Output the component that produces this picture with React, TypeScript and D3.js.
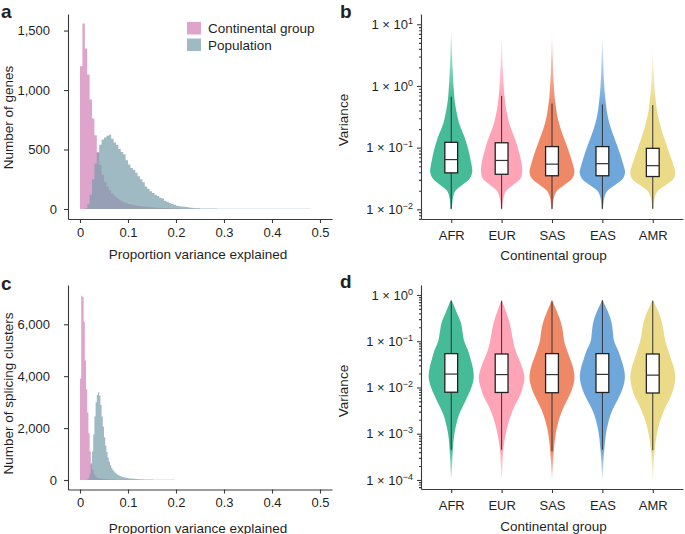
import React, { useEffect, useRef } from "react";
import * as d3 from "d3";

const FONT = "'Liberation Sans', Arial, Helvetica, sans-serif";
const AXIS = "#3a3a3a";
const INK = "#1f1f1f";

// ---- histogram panels (a, c) ----
const seriesNames = ["Continental group", "Population"];
const seriesColors = ["#d07eb5", "#779cab"];

const propTicks = [0, 0.1, 0.2, 0.3, 0.4, 0.5];
const propTickLabels = ["0", "0.1", "0.2", "0.3", "0.4", "0.5"];
const geneCountTicks = [0, 500, 1000, 1500];
const clusterCountTicks = [0, 2000, 4000, 6000];

// panel a, bins of 0.005
const geneBin = 0.005;
const geneContinentalStart = 0;
const geneContinental = [
  1200, 1560, 1350, 1130, 920, 760, 620, 480, 370, 290, 230, 190, 160, 130, 110,
  92, 78, 66, 56, 48, 42, 37, 33, 29, 26, 23, 21, 19, 17, 15, 14, 12, 11, 10, 9,
  8, 7, 6, 5, 5, 4, 4, 3, 3, 3, 2, 2, 2, 2, 2,
];
const genePopulationStart = 0.01;
const genePopulation = [
  5, 40, 120, 250, 380, 470, 540, 585, 600, 615, 625, 590, 560, 540, 505, 480,
  460, 410, 375, 345, 330, 305, 275, 250, 225, 190, 170, 150, 135, 120, 110, 95,
  88, 70, 60, 50, 42, 35, 28, 24, 21, 20, 16, 12, 10, 8, 7, 6, 5, 5, 5, 4, 4, 4,
  4, 3, 3, 3, 3, 3, 3, 3, 2, 3, 2, 2, 2, 2, 2, 2, 2, 2, 2, 2, 2, 2, 2, 2, 2, 2,
  2, 2, 2, 2, 2, 2, 2, 2, 2, 2, 2, 2, 2, 2,
];

// panel c, bins of 0.0025
const clusterBin = 0.0025;
const clusterContinentalStart = 0;
const clusterContinental = [
  3900, 7100, 7050, 6100, 4600, 3500, 2600, 1800, 1100, 650, 400, 260, 180, 130,
  100, 80, 65, 55, 48, 42, 37, 33, 30, 27, 24, 22, 20, 18, 16, 15, 14, 13, 12, 11,
  10, 9, 9, 8, 8, 7, 7, 6, 6, 5, 5, 5, 4, 4, 4, 3,
];
const clusterPopulationStart = 0.015;
const clusterPopulation = [
  20, 80, 250, 600, 1100, 1750, 2450, 3000, 3280, 3380, 3250, 2900, 2450, 2050,
  1650, 1330, 1080, 860, 700, 570, 470, 390, 330, 280, 240, 205, 180, 155, 135,
  120, 105, 95, 85, 76, 68, 62, 56, 52, 48, 44, 40, 37, 34, 32, 30, 28, 26, 24,
  22, 20, 19, 18, 17, 16, 15, 14, 13, 12, 11, 10, 10, 9, 9, 8, 8, 7, 7, 6, 6, 5,
  5, 5, 5, 4, 4, 4, 4, 4, 3, 3, 3, 3, 3, 3, 3, 3, 3, 3, 3, 3,
];

// ---- violin panels (b, d) ----
const groups = ["AFR", "EUR", "SAS", "EAS", "AMR"];
const groupColors = ["#45bc97", "#ffa4b7", "#ef8867", "#70a7db", "#ebda87"];

// panel b: density (relative half width) on a log10 grid
const geneLogGrid = [
  -2.0, -1.9, -1.8, -1.7, -1.6, -1.5, -1.4, -1.3, -1.2, -1.1, -1.0, -0.9, -0.8,
  -0.7, -0.6, -0.5, -0.4, -0.3, -0.2, -0.1, 0.0, 0.1, 0.2, 0.3, 0.4, 0.5, 0.6,
  0.7, 0.8, 0.9,
];
const geneDensityAFR = [0.03, 0.05, 0.09, 0.2, 0.54, 0.88, 1.0, 0.98, 0.92, 0.86, 0.79, 0.7, 0.6, 0.48, 0.37, 0.3, 0.24, 0.19, 0.15, 0.13, 0.11, 0.09, 0.08, 0.06, 0.05, 0.04, 0.03, 0.02, 0.01, 0];
const geneDensityEUR = [0.03, 0.05, 0.1, 0.22, 0.56, 0.9, 0.98, 0.97, 0.92, 0.85, 0.77, 0.68, 0.57, 0.46, 0.36, 0.29, 0.23, 0.18, 0.15, 0.12, 0.1, 0.08, 0.07, 0.05, 0.04, 0.03, 0.02, 0.01, 0, 0];
const geneDensitySAS = [0.03, 0.05, 0.1, 0.24, 0.6, 0.96, 1.07, 1.02, 0.93, 0.84, 0.74, 0.63, 0.52, 0.42, 0.33, 0.26, 0.21, 0.17, 0.13, 0.11, 0.09, 0.075, 0.06, 0.05, 0.04, 0.03, 0.02, 0.012, 0.005, 0];
const geneDensityEAS = [0.03, 0.05, 0.1, 0.24, 0.62, 0.98, 1.08, 1.02, 0.93, 0.84, 0.74, 0.63, 0.52, 0.42, 0.33, 0.26, 0.21, 0.17, 0.14, 0.11, 0.09, 0.075, 0.06, 0.05, 0.04, 0.03, 0.02, 0.01, 0, 0];
const geneDensityAMR = [0.03, 0.05, 0.1, 0.25, 0.64, 1.0, 1.07, 1.0, 0.9, 0.8, 0.7, 0.6, 0.5, 0.41, 0.33, 0.26, 0.2, 0.16, 0.13, 0.1, 0.08, 0.06, 0.045, 0.03, 0.02, 0.01, 0, 0, 0, 0];
const geneQ1 = [0.039, 0.037, 0.035, 0.035, 0.034];
const geneMedian = [0.064, 0.062, 0.054, 0.055, 0.051];
const geneQ3 = [0.122, 0.12, 0.104, 0.104, 0.0975];
const geneWhiskerLo = [0.0102, 0.0102, 0.0102, 0.0102, 0.0102];
const geneWhiskerHi = [0.67, 0.69, 0.52, 0.5, 0.49];
const geneExponents = [-2, -1, 0, 1];

// panel d
const clusterLogGrid = [
  -4.0, -3.8, -3.6, -3.4, -3.2, -3.0, -2.8, -2.6, -2.4, -2.2, -2.0, -1.8, -1.6,
  -1.4, -1.2, -1.0, -0.8, -0.6, -0.4, -0.2, -0.1,
];
const clusterDensityAFR = [0, 0.03, 0.045, 0.07, 0.1, 0.15, 0.24, 0.36, 0.56, 0.77, 0.96, 1.07, 1.04, 0.93, 0.8, 0.62, 0.54, 0.46, 0.28, 0.1, 0];
const clusterDensityEUR = [0, 0.03, 0.045, 0.07, 0.12, 0.2, 0.3, 0.44, 0.62, 0.85, 1.0, 1.09, 1.0, 0.84, 0.66, 0.55, 0.47, 0.38, 0.24, 0.08, 0];
const clusterDensitySAS = [0, 0.03, 0.05, 0.08, 0.12, 0.18, 0.27, 0.4, 0.58, 0.8, 0.98, 1.07, 1.02, 0.88, 0.72, 0.58, 0.52, 0.43, 0.27, 0.09, 0];
const clusterDensityEAS = [0, 0.03, 0.05, 0.08, 0.12, 0.17, 0.26, 0.38, 0.57, 0.8, 0.98, 1.07, 1.03, 0.9, 0.75, 0.56, 0.5, 0.44, 0.3, 0.1, 0];
const clusterDensityAMR = [0, 0.03, 0.05, 0.08, 0.13, 0.2, 0.3, 0.45, 0.63, 0.85, 1.0, 1.07, 1.02, 0.88, 0.74, 0.6, 0.52, 0.44, 0.3, 0.1, 0];
const clusterQ1 = [0.0079, 0.0078, 0.0077, 0.0078, 0.0076];
const clusterMedian = [0.0195, 0.019, 0.019, 0.0192, 0.0185];
const clusterQ3 = [0.054, 0.053, 0.054, 0.054, 0.053];
const clusterWhiskerLo = [0.00045, 0.00045, 0.00042, 0.00045, 0.00044];
const clusterWhiskerHi = [0.75, 0.74, 0.72, 0.77, 0.75];
const clusterExponents = [-4, -3, -2, -1, 0];

type Sel = d3.Selection<any, any, any, any>;

function styleAxis(a: Sel) {
  a.attr("font-family", FONT).attr("font-size", 13);
  a.select(".domain").attr("stroke", AXIS).attr("stroke-width", 1.1);
  a.selectAll(".tick line").attr("stroke", AXIS).attr("stroke-width", 1.1);
  a.selectAll(".tick text").attr("fill", INK);
}

function addText(g: Sel, x: number, y: number, s: string, size = 13.5, anchor = "middle", weight = "normal") {
  return g.append("text").attr("x", x).attr("y", y).attr("text-anchor", anchor)
    .attr("font-family", FONT).attr("font-size", size).attr("font-weight", weight)
    .attr("fill", INK).text(s);
}

function histPanel(svg: Sel, o: any) {
  const x = d3.scaleLinear().domain([-0.025, 0.525]).range([o.left, o.right]);
  const y = d3.scaleLinear().domain(o.yDomain).range([o.bottom, o.top]);
  const g = svg.append("g");
  const series = [
    { vals: o.cont as number[], start: o.contStart as number },
    { vals: o.pop as number[], start: o.popStart as number },
  ];
  // each series as one stepped outline, so neighbouring bins don't leave seams
  const step = d3.area<[number, number]>()
    .x((d) => x(d[0]))
    .y0(y(0))
    .y1((d) => y(d[1]))
    .curve(d3.curveStepAfter);
  series.forEach((s, k) => {
    const pts: [number, number][] = s.vals.map((v, i) => [s.start + i * o.bin, v]);
    pts.push([s.start + s.vals.length * o.bin, 0]);
    g.append("path").attr("d", step(pts))
      .attr("fill", seriesColors[k]).attr("fill-opacity", 0.7);
  });

  const ax = g.append("g").attr("transform", `translate(0,${o.bottom})`)
    .call(d3.axisBottom(x).tickValues(propTicks)
      .tickFormat((d: any, i: number) => propTickLabels[i])
      .tickSize(4).tickPadding(o.xPad).tickSizeOuter(0));
  styleAxis(ax);

  const ay = g.append("g").attr("transform", `translate(${o.left},0)`)
    .call(d3.axisLeft(y).tickValues(o.yTicks).tickFormat(d3.format(","))
      .tickSize(4).tickSizeOuter(0));
  styleAxis(ay);
  ay.selectAll(".tick text").attr("x", (d: any) => (d === 0 ? -11 : -18));

  addText(g, 0, 0, o.yTitle).attr("transform", `translate(13,${o.yTitleY}) rotate(-90)`);
  addText(g, 198, o.xTitleY, "Proportion variance explained");
  addText(g, 1, o.letterY, o.letter, 19, "start", "bold");

  if (o.legend) {
    seriesNames.forEach((name, k) => {
      g.append("rect").attr("x", 187).attr("y", 22 + k * 16.5).attr("width", 14).attr("height", 12.5)
        .attr("fill", seriesColors[k]).attr("fill-opacity", 0.7);
      addText(g, 208, 33 + k * 16.5, name, 13.5, "start");
    });
  }
}

function violinPanel(svg: Sel, defs: Sel, o: any) {
  const x = d3.scalePoint().domain(groups).range([o.left, o.right]).padding(0.6);
  const y = d3.scaleLog().domain(o.yDomain).range([o.bottom, o.top]);
  const w = d3.scaleLinear().domain([0, 1]).range([0, 21]);
  const g = svg.append("g");

  groups.forEach((grp, i) => {
    const cx = x(grp) as number;
    const dens: number[] = o.densities[i];
    const pts: [number, number][] = o.grid.map((v: number, j: number) => [v, dens[j]]);
    const id = `${o.id}-${grp}`;
    let tipLog = o.grid[0];
    if (o.fadeTop) {
      let last = 0;
      dens.forEach((d, j) => { if (d > 0) last = j; });
      tipLog = o.grid[Math.min(last + 1, o.grid.length - 1)];
    }
    const grad = defs.append("linearGradient").attr("id", id)
      .attr("gradientUnits", "userSpaceOnUse")
      .attr("x1", 0).attr("x2", 0)
      .attr("y1", y(10 ** tipLog))
      .attr("y2", y(o.fadeTop ? o.hi[i] : o.lo[i]));
    grad.append("stop").attr("offset", 0).attr("stop-color", groupColors[i]).attr("stop-opacity", 0.25);
    grad.append("stop").attr("offset", 1).attr("stop-color", groupColors[i]).attr("stop-opacity", 1);

    const area = d3.area<[number, number]>()
      .y((d) => y(10 ** d[0]))
      .x0((d) => cx - w(Math.max(0, d[1])))
      .x1((d) => cx + w(Math.max(0, d[1])))
      .curve(d3.curveCatmullRom);
    g.append("path").attr("d", area(pts)).attr("fill", `url(#${id})`);

    g.append("line").attr("x1", cx).attr("x2", cx)
      .attr("y1", y(o.lo[i])).attr("y2", y(o.hi[i]))
      .attr("stroke", "#333").attr("stroke-width", 1);
    g.append("rect").attr("x", cx - 6.4).attr("width", 12.8)
      .attr("y", y(o.q3[i])).attr("height", y(o.q1[i]) - y(o.q3[i]))
      .attr("fill", "#fff").attr("stroke", "#222").attr("stroke-width", 1.3);
    g.append("line").attr("x1", cx - 6.4).attr("x2", cx + 6.4)
      .attr("y1", y(o.median[i])).attr("y2", y(o.median[i]))
      .attr("stroke", "#333").attr("stroke-width", 1.2);
  });

  const ax = g.append("g").attr("transform", `translate(0,${o.bottom})`)
    .call(d3.axisBottom(x).tickSize(4).tickPadding(o.xPad).tickSizeOuter(0));
  styleAxis(ax);

  const ay = g.append("g").attr("transform", `translate(${o.left},0)`)
    .call(d3.axisLeft(y).tickValues(y.ticks()).tickFormat(() => "").tickSizeOuter(0));
  styleAxis(ay);
  const isMajor = (d: number) => Math.abs(Math.log10(d) - Math.round(Math.log10(d))) < 1e-6;
  ay.selectAll(".tick line").attr("x2", (d: any) => (isMajor(d) ? -4 : -2));

  o.exps.forEach((e: number) => {
    const t = g.append("text").attr("x", o.left - 8).attr("y", y(10 ** e)).attr("dy", "0.35em")
      .attr("text-anchor", "end").attr("font-family", FONT).attr("font-size", 13).attr("fill", INK);
    t.append("tspan").text("1 \u00d7 10");
    t.append("tspan").attr("font-size", 9).attr("dy", -5).text(e < 0 ? `\u2212${-e}` : `${e}`);
  });

  addText(g, 0, 0, "Variance").attr("transform", `translate(348,${o.yTitleY}) rotate(-90)`);
  addText(g, 553.5, o.xTitleY, "Continental group");
  addText(g, 340, o.letterY, o.letter, 19, "start", "bold");
}

export default function App() {
  const ref = useRef<SVGSVGElement>(null);

  useEffect(() => {
    const svg = d3.select(ref.current) as Sel;
    svg.selectAll("*").remove();
    const defs = svg.append("defs");

    histPanel(svg, {
      left: 68, right: 332, top: 14, bottom: 219,
      yDomain: [-84, 1639], yTicks: geneCountTicks,
      bin: geneBin, cont: geneContinental, contStart: geneContinentalStart,
      pop: genePopulation, popStart: genePopulationStart,
      xPad: 5, yTitle: "Number of genes", yTitleY: 117.5, xTitleY: 259,
      letter: "a", letterY: 18, legend: true,
    });
    histPanel(svg, {
      left: 68, right: 332, top: 285, bottom: 489.5,
      yDomain: [-366, 7514], yTicks: clusterCountTicks,
      bin: clusterBin, cont: clusterContinental, contStart: clusterContinentalStart,
      pop: clusterPopulation, popStart: clusterPopulationStart,
      xPad: 4.6, yTitle: "Number of splicing clusters", yTitleY: 393.5, xTitleY: 532.5,
      letter: "c", letterY: 290, legend: false,
    });
    violinPanel(svg, defs, {
      id: "vb", left: 421, right: 683, top: 14, bottom: 219,
      yDomain: [10 ** -2.157, 10 ** 1.167],
      grid: geneLogGrid,
      densities: [geneDensityAFR, geneDensityEUR, geneDensitySAS, geneDensityEAS, geneDensityAMR],
      q1: geneQ1, median: geneMedian, q3: geneQ3, lo: geneWhiskerLo, hi: geneWhiskerHi,
      fadeTop: true, exps: geneExponents, xPad: 7.5,
      yTitleY: 120, xTitleY: 260, letter: "b", letterY: 18,
    });
    violinPanel(svg, defs, {
      id: "vd", left: 421, right: 683, top: 285, bottom: 489,
      yDomain: [10 ** -4.195, 10 ** 0.216],
      grid: clusterLogGrid,
      densities: [clusterDensityAFR, clusterDensityEUR, clusterDensitySAS, clusterDensityEAS, clusterDensityAMR],
      q1: clusterQ1, median: clusterMedian, q3: clusterQ3, lo: clusterWhiskerLo, hi: clusterWhiskerHi,
      fadeTop: false, exps: clusterExponents, xPad: 8,
      yTitleY: 391, xTitleY: 531, letter: "d", letterY: 288,
    });
  }, []);

  return (
    <svg
      ref={ref}
      width={685}
      height={534}
      style={{ position: "absolute", left: 0, top: 0, background: "#fff" }}
    />
  );
}
